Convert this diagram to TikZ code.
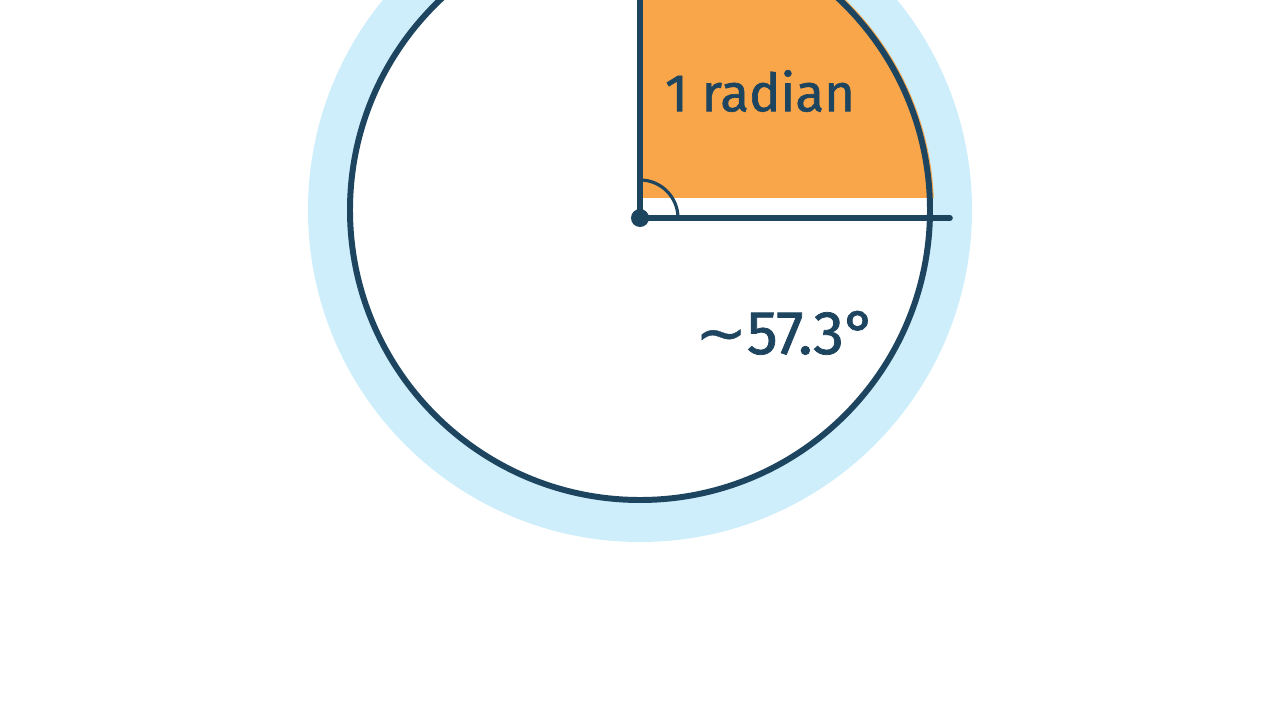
\documentclass[tikz,border=0pt]{standalone}
\usepackage{fontspec}
\setmainfont{Fira Sans}
\newfontfamily\labelfont{Fira Sans}[FakeBold=1.2]
\newfontfamily\symfont{DejaVu Sans}[FakeBold=0.6]
\definecolor{inkblue}{HTML}{1D4560}
\definecolor{haloblue}{HTML}{CDEEFA}
\definecolor{sectororange}{HTML}{F9A64A}
\begin{document}
\begin{tikzpicture}[x=0.02cm,y=0.02cm]
    \useasboundingbox (-640,-510) rectangle (640,210);
    \clip (-640,-510) rectangle (640,210);
    \coordinate (O) at (0,0);
    \coordinate (V) at (0,-8);
    \fill[haloblue] (O) circle[radius=332];
    \fill[white] (O) circle[radius=290];
    \begin{scope}
        \clip (O) circle[radius=294];
        \fill[sectororange] (3,12) rectangle (400,300);
    \end{scope}
    \draw[inkblue,line width=3.4pt] (O) circle[radius=290];
    \draw[inkblue,line width=3.2pt] (V) -- (0,215);
    \draw[inkblue,line width=3.2pt,line cap=round] (V) -- (310,-8);
    \draw[inkblue,line width=1.8pt] (38,-8) arc[start angle=0,end angle=90,radius=38];
    \fill[inkblue] (V) circle[radius=9];
    \node[text=inkblue,font=\labelfont\fontsize{30}{36}\selectfont] (rad) at (120,119) {1 radian};
    \node[text=inkblue,font=\labelfont\fontsize{35}{40}\selectfont,anchor=base west,inner sep=0pt] (deg) at (55,-144) {{\symfont ∼}57.3°};
\end{tikzpicture}
\end{document}
